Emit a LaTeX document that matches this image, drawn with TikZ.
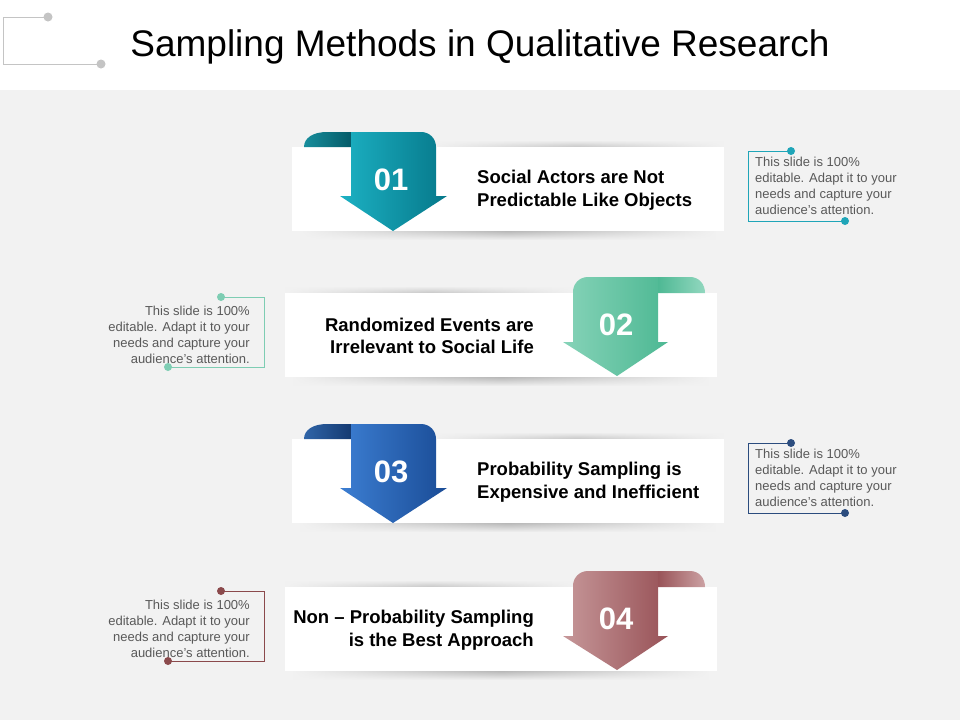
\documentclass[tikz,border=0pt]{standalone}
\usepackage{fontspec}
\setmainfont{Liberation Sans}
\usetikzlibrary{fadings}
\definecolor{bg}{HTML}{F2F2F2}
\definecolor{notegray}{HTML}{595959}
\definecolor{decogray}{HTML}{C4C4C4}
\definecolor{tealL}{HTML}{1CB1C3}
\definecolor{tealD}{HTML}{06788A}
\definecolor{mintL}{HTML}{86D3B8}
\definecolor{mintD}{HTML}{4DB893}
\definecolor{blueL}{HTML}{3C7ED2}
\definecolor{blueD}{HTML}{1A4C96}
\definecolor{roseL}{HTML}{C69799}
\definecolor{roseD}{HTML}{985257}
\definecolor{cTeal}{HTML}{1FA5B8}
\definecolor{cMint}{HTML}{7ECDB3}
\definecolor{cNavy}{HTML}{2B4C7E}
\definecolor{cMaroon}{HTML}{8B4A4C}
\tikzfading[name=sidefade, left color=transparent!100, right color=transparent!100, middle color=transparent!0]
\tikzset{
  panel/.style={fill=white, draw=none, inner sep=0pt, minimum width=432pt, minimum height=84pt, anchor=north west},
  numtxt/.style={text=white, font=\bfseries\fontsize{31}{36}\selectfont, inner sep=0pt},
  maintxt/.style={text=black, font=\bfseries\fontsize{18.5}{22.5}\selectfont, inner sep=0pt},
  note/.style={text=notegray, font=\fontsize{13}{16}\selectfont, inner sep=0pt},
  dot/.style={circle, fill=#1, draw=none, inner sep=0pt, minimum size=8pt},
  bracket/.style={draw=#1, line width=0.9pt},
}
% left-arrow row: #1 top y, #2 name, #3 light, #4 dark, #5 number, #6 text
\newcommand{\rowLeftArrow}[6]{%
  \shade[path fading=sidefade, top color=black!28, bottom color=bg] (300,#1+99) rectangle (716,#1+108);
  \shade[path fading=sidefade, top color=bg, bottom color=black!22] (430,#1+8) rectangle (724,#1+15);
  \node[panel] (#2box) at (292,#1+15) {};
  \shade[left color=#3!80!black, right color=#4!75!black] (304,#1+15) .. controls (304,#1+6) and (313,#1) .. (327,#1) -- (352,#1) -- (352,#1+15) -- cycle;
  \shade[left color=#3, right color=#4] (351,#1) -- (421,#1) .. controls (430,#1) and (436,#1+7) .. (436,#1+15) -- (436,#1+64) -- (447,#1+64) -- (393,#1+99) -- (340,#1+64) -- (351,#1+64) -- cycle;
  \node[numtxt] (#2num) at (391,#1+48) {#5};
  \node[maintxt, anchor=west, align=left] (#2txt) at (477,#1+58) {#6};
}
% right-arrow row
\newcommand{\rowRightArrow}[6]{%
  \shade[path fading=sidefade, top color=black!28, bottom color=bg] (293,#1+100) rectangle (709,#1+109);
  \shade[path fading=sidefade, top color=bg, bottom color=black!22] (285,#1+9) rectangle (575,#1+16);
  \node[panel] (#2box) at (285,#1+16) {};
  \shade[left color=#4, right color=#3!90!white] (657,#1) -- (690,#1) .. controls (699,#1) and (705,#1+7) .. (705,#1+16) -- (657,#1+16) -- cycle;
  \shade[left color=#3, right color=#4] (573,#1+15) .. controls (573,#1+7) and (579,#1) .. (588,#1) -- (658,#1) -- (658,#1+65) -- (668,#1+65) -- (617,#1+99) -- (563,#1+65) -- (573,#1+65) -- cycle;
  \node[numtxt] (#2num) at (616,#1+48) {#5};
  \node[maintxt, anchor=east, align=right] (#2txt) at (534,#1+59) {#6};
}
\newcommand{\noteRight}[3]{%
  \node[dot=#3] (#2a) at (791,#1+19) {};
  \node[dot=#3] (#2b) at (845,#1+89) {};
  \coordinate (#2k1) at (748,#1+19);
  \coordinate (#2k2) at (748,#1+89);
  \draw[bracket=#3] (#2a.center) -- (#2k1) -- (#2k2) -- (#2b.center);
  \node[note, anchor=west, align=left] (#2t) at (755,#1+54) {This slide is 100\%\\editable. Adapt it to your\\needs and capture your\\audience's attention.};
}
\newcommand{\noteLeft}[3]{%
  \node[dot=#3] (#2a) at (221,#1+20) {};
  \node[dot=#3] (#2b) at (168,#1+90) {};
  \coordinate (#2k1) at (264,#1+20);
  \coordinate (#2k2) at (264,#1+90);
  \draw[bracket=#3] (#2a.center) -- (#2k1) -- (#2k2) -- (#2b.center);
  \node[note, anchor=east, align=right] (#2t) at (250,#1+58) {This slide is 100\%\\editable. Adapt it to your\\needs and capture your\\audience's attention.};
}
\begin{document}
\begin{tikzpicture}[x=1pt, y=-1pt]
\useasboundingbox (0,0) rectangle (960,720);
\fill[white] (0,0) rectangle (960,90);
\fill[bg] (0,90) rectangle (960,720);
% top-left decoration
\node[dot=decogray, minimum size=9pt] (da) at (48,17) {};
\node[dot=decogray, minimum size=9pt] (db) at (101,64) {};
\coordinate (dk1) at (3,17);
\coordinate (dk2) at (3,64);
\draw[decogray, line width=0.9pt] (da.center) -- (dk1) -- (dk2) -- (db.center);
% title
\node[font=\fontsize{37}{44}\selectfont, text=black, inner sep=0pt, anchor=base] (title) at (480,56) {Sampling Methods in Qualitative Research};
% rows
\rowLeftArrow{132}{r1}{tealL}{tealD}{01}{Social Actors are Not\\Predictable Like Objects}
\rowRightArrow{277}{r2}{mintL}{mintD}{02}{Randomized Events are\\Irrelevant to Social Life}
\rowLeftArrow{424}{r3}{blueL}{blueD}{03}{Probability Sampling is\\Expensive and Inefficient}
\rowRightArrow{571}{r4}{roseL}{roseD}{04}{Non -- Probability Sampling\\is the Best Approach}
% notes
\noteRight{132}{n1}{cTeal}
\noteLeft{277}{n2}{cMint}
\noteRight{424}{n3}{cNavy}
\noteLeft{571}{n4}{cMaroon}
\end{tikzpicture}
\end{document}
